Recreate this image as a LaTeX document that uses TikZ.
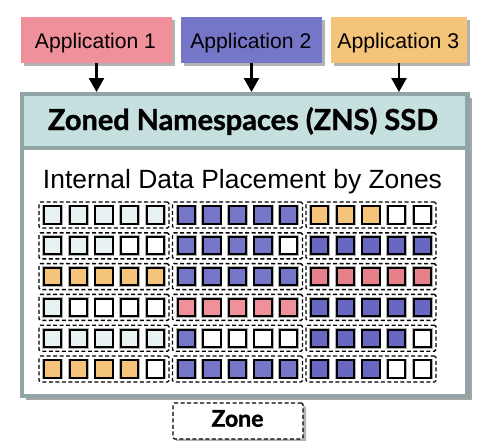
\documentclass[tikz,border=0pt]{standalone}
\usepackage{fontspec}
\setmainfont{Liberation Sans}
\newfontfamily\gillfont{Lato}[BoldFeatures={FakeBold=1.3}]
\usetikzlibrary{arrows.meta,shadows}
\definecolor{apppink}{HTML}{F0909A}
\definecolor{appblue}{HTML}{7676C9}
\definecolor{apporange}{HTML}{F5C47B}
\definecolor{ssdgray}{HTML}{91A5A6}
\definecolor{hdrteal}{HTML}{C6E0E0}
\definecolor{cellC}{HTML}{E8F2F2}
\definecolor{cellB}{HTML}{7676C9}
\definecolor{cellD}{HTML}{6868C2}
\definecolor{cellO}{HTML}{F5C47B}
\definecolor{cellP}{HTML}{F0909A}
\definecolor{cellQ}{HTML}{E6808A}
\definecolor{cellW}{HTML}{FFFFFF}
\tikzset{
  softshadow/.style={drop shadow={shadow xshift=3pt,shadow yshift=-3pt,opacity=0.3,fill=black}},
  appbox/.style={draw=none,minimum height=46pt,inner sep=0pt,outer sep=0pt,softshadow},
  applabel/.style={anchor=base,inner sep=0pt},
  cellbox/.style={draw=black,line width=2pt,minimum size=17.3pt,inner sep=0pt,outer sep=0pt,
    preaction={draw=black!30,line width=3.6pt}},
  zonebox/.style={draw=black,line width=1.4pt,dash pattern=on 4pt off 2.5pt,minimum width=130pt,
    minimum height=26pt,inner sep=0pt,outer sep=0pt,rounded corners=1.5pt},
  flow/.style={line width=2.5pt,-{Triangle[length=14pt,width=15pt]},shorten >=2pt},
}
\begin{document}
\begin{tikzpicture}[x=1pt,y=-1pt]
\useasboundingbox (0,0) rectangle (488,440);
% applications
\node[appbox,fill=apppink,minimum width=151pt] (app1) at (96.5,40) {};
\node[appbox,fill=appblue,minimum width=141pt] (app2) at (251.5,40) {};
\node[appbox,fill=apporange,minimum width=136pt] (app3) at (399,40) {};
\node[applabel] (app1t) at (95.5,48.3) {\resizebox{121pt}{!}{Application 1}};
\node[applabel] (app2t) at (250.8,48.3) {\resizebox{121pt}{!}{Application 2}};
\node[applabel] (app3t) at (398.3,48.3) {\resizebox{122pt}{!}{Application 3}};
% SSD box
\node[draw=ssdgray,line width=4.5pt,fill=white,minimum width=445.5pt,minimum height=302pt,
  inner sep=0pt,outer sep=0pt,drop shadow={shadow xshift=4pt,shadow yshift=-4pt,opacity=0.35,fill=black}] (ssd) at (244.75,245) {};
\node[draw=ssdgray,line width=4.5pt,fill=hdrteal,minimum width=445.5pt,minimum height=54pt,
  inner sep=0pt,outer sep=0pt] (hdr) at (244.75,121) {};
\node[anchor=base,inner sep=0pt] (hdrt) at (243,130) {\resizebox{390pt}{!}{\gillfont\bfseries Zoned Namespaces (ZNS) SSD}};
\node[anchor=base,inner sep=0pt] (intt) at (242.5,188.3) {\resizebox{399pt}{!}{Internal Data Placement by Zones}};
% arrows
\draw[flow] (app1.south) -- (app1.south |- ssd.north);
\draw[flow] (app2.south) -- (app2.south |- ssd.north);
\draw[flow] (app3.south) -- (app3.south |- ssd.north);
% zones and cells
\foreach \r/\pat in {0/{C,C,C,C,C,B,B,B,B,B,O,O,O,W,W},
  1/{C,C,C,W,W,B,B,B,B,W,D,D,D,D,D},
  2/{O,O,O,O,O,B,B,B,B,B,Q,Q,Q,Q,Q},
  3/{C,W,W,W,W,P,P,P,P,P,D,D,D,D,D},
  4/{C,C,C,C,C,B,W,W,W,W,D,D,D,D,W},
  5/{O,O,O,O,W,B,B,B,B,B,D,D,D,W,W}} {
  \foreach \zz in {0,1,2} {
    \node[zonebox] (zone-\r-\zz) at ({104+133.5*\zz},{215+30.8*\r}) {};
  }
  \foreach \c [count=\k from 0] in \pat {
    \pgfmathtruncatemacro{\zi}{int(\k/5)}
    \pgfmathtruncatemacro{\ji}{mod(\k,5)}
    \node[cellbox,fill=cell\c] (cell-\r-\k) at ({104+133.5*\zi+25.6*(\ji-2)},{215+30.8*\r}) {};
  }
}
% legend
\node[zonebox,minimum height=36pt,fill=white,softshadow] (legend) at (238,421) {};
\node[anchor=base,inner sep=0pt] (legendt) at (237.5,426.7) {\resizebox{52pt}{!}{\gillfont\bfseries Zone}};
\end{tikzpicture}
\end{document}
